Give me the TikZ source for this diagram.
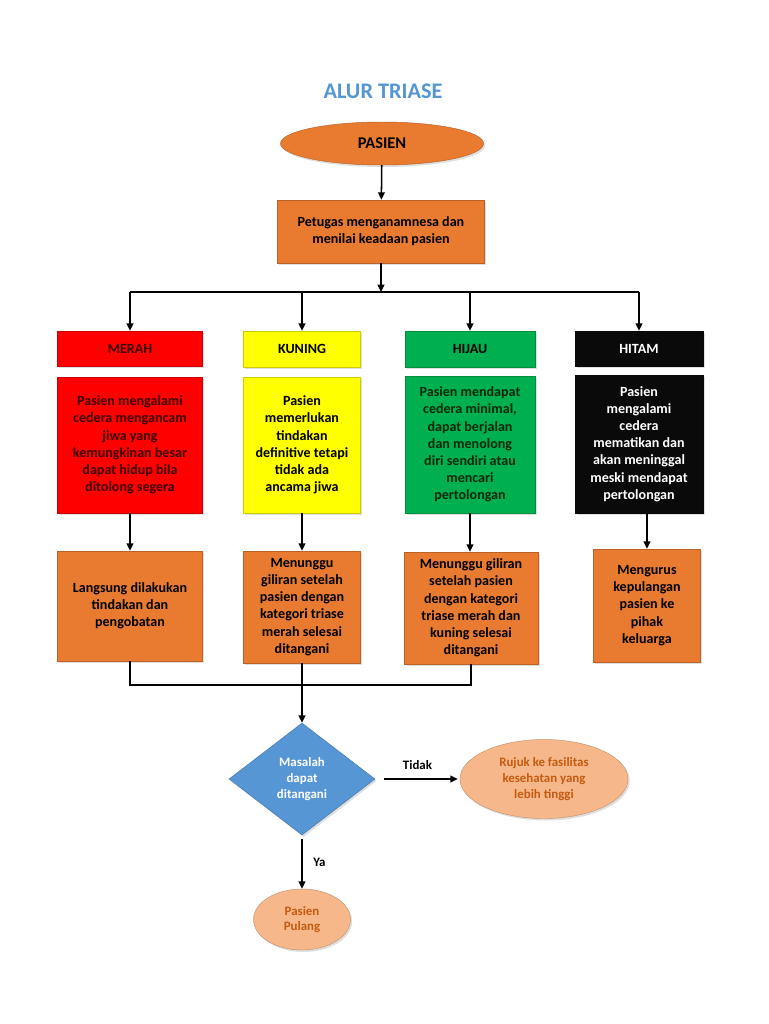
\documentclass[tikz,border=0pt]{standalone}
\usepackage{fontspec}
\setmainfont{Carlito}
\usepackage{tikz}
\usetikzlibrary{arrows.meta,positioning,shapes.geometric,calc,shadows}
\usepackage{xcolor}
\definecolor{triOrange}{RGB}{232,123,48}
\definecolor{triPeach}{RGB}{246,184,138}
\definecolor{triPeachText}{RGB}{197,90,17}
\definecolor{triRed}{RGB}{255,0,0}
\definecolor{triYellow}{RGB}{255,255,0}
\definecolor{triGreen}{RGB}{0,176,80}
\definecolor{triBlack}{RGB}{10,10,10}
\definecolor{triBlue}{RGB}{86,150,212}
\definecolor{triTitle}{RGB}{84,150,212}

\begin{document}
\begin{tikzpicture}[x=0.3mm, y=-0.3mm,
    box/.style={rectangle, draw=#1!80!black, fill=#1, line width=0.4pt, align=center, inner sep=1pt,
        font=\fontsize{12}{14.7}\selectfont\bfseries,
        drop shadow={opacity=0.25, shadow xshift=0.5mm, shadow yshift=-0.6mm}},
    oval/.style={ellipse, draw=#1!80!black, fill=#1, line width=0.4pt, align=center, inner sep=0pt,
        drop shadow={opacity=0.25, shadow xshift=0.5mm, shadow yshift=-0.6mm}},
    arrow/.style={-{Triangle[length=2.2mm, width=2mm]}, line width=1.3pt},
    line/.style={line width=1.3pt}
]
\fill[white] (0,0) rectangle (768,1024);
\useasboundingbox (0,0) rectangle (768,1024);

\node[font=\fontsize{19}{22}\selectfont\bfseries, text=triTitle] (title) at (383,91) {ALUR TRIASE};

\node[oval=triOrange, minimum width=60.9mm, minimum height=12.9mm, font=\fontsize{14}{16}\selectfont\bfseries] (pasien) at (382,143.5) {PASIEN};
\node[box=triOrange, minimum width=62.1mm, minimum height=18.9mm] (petugas) at (381,231.5) {Petugas menganamnesa dan\\menilai keadaan pasien};
\coordinate (split) at (381,292);

\node[box=triRed, minimum width=43.5mm, minimum height=10.5mm, text={rgb,255:red,60;green,0;blue,0}] (merah) at (130,348.5) {MERAH};
\node[box=triYellow, minimum width=35.1mm, minimum height=10.8mm] (kuning) at (302,349) {KUNING};
\node[box=triGreen, minimum width=39mm, minimum height=10.8mm] (hijau) at (470,349) {HIJAU};
\node[box=triBlack, minimum width=38.4mm, minimum height=10.5mm, text=white] (hitam) at (639,348.5) {HITAM};

\node[box=triRed, minimum width=43.5mm, minimum height=40.8mm, text={rgb,255:red,60;green,0;blue,0}] (dmerah) at (130,445) {Pasien mengalami\\cedera mengancam\\jiwa yang\\kemungkinan besar\\dapat hidup bila\\ditolong segera};
\node[box=triYellow, minimum width=35.1mm, minimum height=40.8mm] (dkuning) at (302,445) {Pasien\\memerlukan\\tindakan\\definitive tetapi\\tidak ada\\ancama jiwa};
\node[box=triGreen, minimum width=39mm, minimum height=41.1mm, text={rgb,255:red,10;green,40;blue,10}] (dhijau) at (470,444.5) {Pasien mendapat\\cedera minimal,\\dapat berjalan\\dan menolong\\diri sendiri atau\\mencari\\pertolongan};
\node[box=triBlack, minimum width=38.4mm, minimum height=41.4mm, text=white] (dhitam) at (639,444) {Pasien\\mengalami\\cedera\\mematikan dan\\akan meninggal\\meski mendapat\\pertolongan};

\node[box=triOrange, minimum width=43.5mm, minimum height=33mm] (tmerah) at (130,606) {Langsung dilakukan\\tindakan dan\\pengobatan};
\node[box=triOrange, minimum width=35.1mm, minimum height=33.6mm] (tkuning) at (302,607) {Menunggu\\giliran setelah\\pasien dengan\\kategori triase\\merah selesai\\ditangani};
\node[box=triOrange, minimum width=40.2mm, minimum height=33.6mm] (thijau) at (471,608) {Menunggu giliran\\setelah pasien\\dengan kategori\\triase merah dan\\kuning selesai\\ditangani};
\node[box=triOrange, minimum width=32.1mm, minimum height=33.9mm] (thitam) at (647,605.5) {Mengurus\\kepulangan\\pasien ke\\pihak\\keluarga};
\coordinate (join) at (302,685);

\node[diamond, draw=triBlue!80!black, fill=triBlue, minimum width=43.8mm, minimum height=33.6mm, inner sep=0pt, align=center, text=white,
    font=\fontsize{11}{13.4}\selectfont\bfseries, drop shadow={opacity=0.25, shadow xshift=0.5mm, shadow yshift=-0.6mm}] (masalah) at (302,779) {Masalah\\dapat\\ditangani};
\node[oval=triPeach, minimum width=50.4mm, minimum height=23.7mm, text=triPeachText, font=\fontsize{11}{13.4}\selectfont\bfseries] (rujuk) at (544,779) {Rujuk ke fasilitas\\kesehatan yang\\lebih tinggi};
\node[oval=triPeach, minimum width=29.1mm, minimum height=18.3mm, text=triPeachText, font=\fontsize{11}{13.4}\selectfont\bfseries] (pulang) at (302,919.5) {Pasien\\Pulang};

\draw[arrow] (pasien) -- (petugas);
\draw[line] (split -| merah.north) -- (split -| hitam.north);
\draw[arrow] (petugas.south) -- (split);
\draw[arrow] (split -| merah.north) -- (merah.north);
\draw[arrow] (split -| kuning.north) -- (kuning.north);
\draw[arrow] (split -| hijau.north) -- (hijau.north);
\draw[arrow] (split -| hitam.north) -- (hitam.north);

\draw[arrow] (dmerah) -- (tmerah);
\draw[arrow] (dkuning) -- (tkuning);
\draw[arrow] (dhijau.south) -- (dhijau.south |- thijau.north);
\draw[arrow] (thitam.north |- dhitam.south) -- (thitam.north);

\draw[line] (tmerah.south) -- (tmerah.south |- join) -- (thijau.south |- join) -- (thijau.south);
\draw[arrow] (tkuning.south) -- (masalah.north);

\draw[arrow, shorten <=2.7mm, shorten >=0.6mm] (masalah.east) -- (rujuk.west) node[midway, above=1.5mm, font=\fontsize{11}{13.4}\selectfont\bfseries] {Tidak};
\draw[arrow, shorten <=1mm] (masalah.south) -- (pulang.north) node[midway, right=2mm, font=\fontsize{11}{13.4}\selectfont\bfseries] {Ya};
\end{tikzpicture}
\end{document}
